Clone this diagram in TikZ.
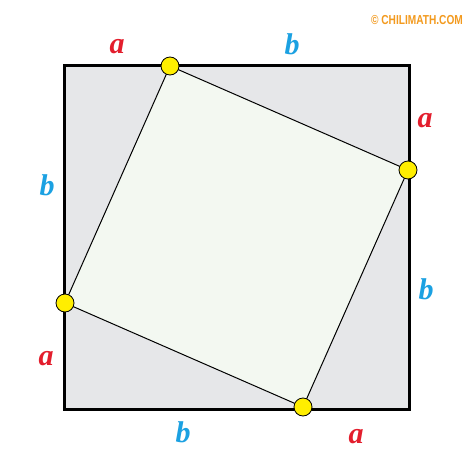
\documentclass[tikz,border=0pt]{standalone}
\usepackage{fontspec}
\setmainfont{Liberation Serif}
\newfontfamily\logofont{Liberation Sans}
\definecolor{outerfill}{HTML}{E6E7E9}
\definecolor{innerfill}{HTML}{F3F8F1}
\definecolor{ptyellow}{HTML}{FFEE00}
\definecolor{lblred}{HTML}{E31E2D}
\definecolor{lblblue}{HTML}{1BA1E2}
\definecolor{logoorange}{HTML}{F39A1E}
\begin{document}
\begin{tikzpicture}[x=1pt,y=-1pt,
  vertex/.style={circle,draw=black,line width=0.8pt,fill=ptyellow,minimum size=18pt,inner sep=0pt},
  lbl/.style={font=\fontsize{30}{30}\selectfont\bfseries\itshape,anchor=base,inner sep=0pt},
  alabel/.style={lbl,text=lblred},
  blabel/.style={lbl,text=lblblue}]
\useasboundingbox (0,0) rectangle (474,474);
\fill[white] (0,0) rectangle (474,474);
\coordinate (TL) at (64,65);
\coordinate (BR) at (409,409);
\draw[fill=outerfill,line width=3pt] (TL) rectangle (BR);
\coordinate (P1) at (170,66);
\coordinate (P2) at (408,170);
\coordinate (P3) at (303,407);
\coordinate (P4) at (65,303);
\draw[fill=innerfill,line width=1pt] (P1) -- (P2) -- (P3) -- (P4) -- cycle;
\draw[line width=3pt] (TL) rectangle (BR);
\node[vertex] (v1) at (P1) {};
\node[vertex] (v2) at (P2) {};
\node[vertex] (v3) at (P3) {};
\node[vertex] (v4) at (P4) {};
\node[alabel] (la1) at (117,53) {a};
\node[blabel] (lb1) at (292,54) {b};
\node[alabel] (la2) at (425,127) {a};
\node[blabel] (lb2) at (426,299) {b};
\node[blabel] (lb3) at (47,195) {b};
\node[alabel] (la3) at (46,365) {a};
\node[blabel] (lb4) at (183,442) {b};
\node[alabel] (la4) at (356,443) {a};
\node[font=\logofont\bfseries\fontsize{13}{13}\selectfont,text=logoorange,xscale=0.78,anchor=east,inner sep=0pt] (logo) at (463,20) {© CHILIMATH.COM};
\end{tikzpicture}
\end{document}
